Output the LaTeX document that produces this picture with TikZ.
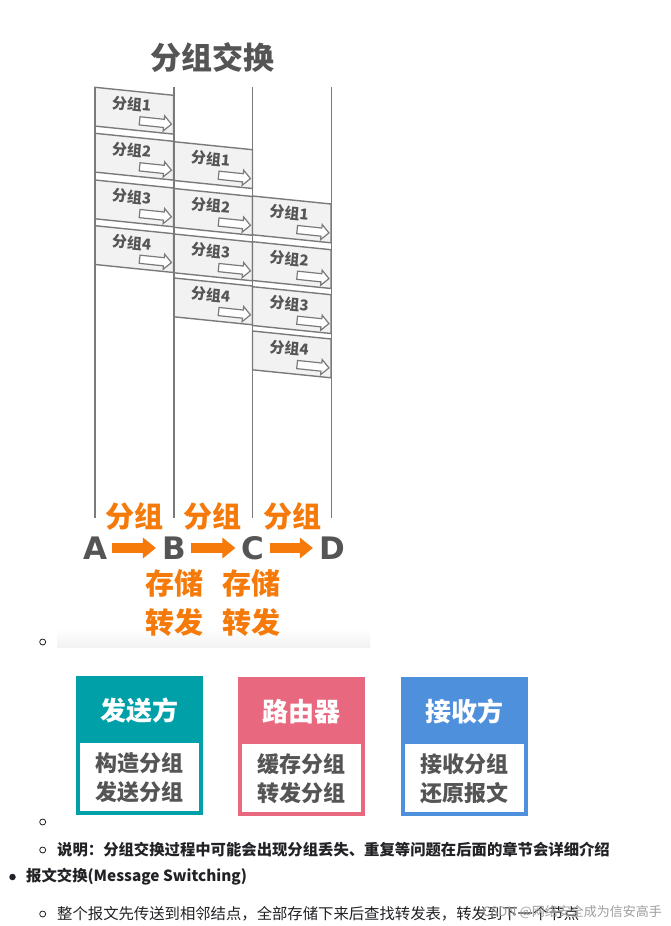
\documentclass[tikz,border=0pt]{standalone}
\usepackage{fontspec}
\setmainfont{Noto Sans CJK SC}
\newfontfamily\hostfont{DejaVu Sans}
\usetikzlibrary{shapes.arrows,arrows.meta}

\definecolor{inkgray}{HTML}{555555}
\definecolor{linegray}{HTML}{7A7A7A}
\definecolor{pktfill}{HTML}{F2F2F2}
\definecolor{flowor}{HTML}{F57A0A}
\definecolor{senderc}{HTML}{00A0A8}
\definecolor{routerc}{HTML}{E8697F}
\definecolor{recvc}{HTML}{4F90DC}
\definecolor{pagetext}{HTML}{222226}

\tikzset{
  lifeline/.style={linegray,line width=1.6pt},
  pktbox/.style={draw=linegray,fill=pktfill,line width=1.4pt},
  pktlabel/.style={inkgray,font=\bfseries\fontsize{15}{15}\selectfont,rotate=-5,inner sep=0pt},
  pktarrow/.style={single arrow,draw=linegray,fill=white,line width=1.2pt,rotate=-6,
    minimum height=32pt,single arrow head extend=3.5pt,
    single arrow head indent=0pt,inner xsep=0pt,inner ysep=3.5pt,outer sep=0pt},
  hostlabel/.style={inkgray,font=\hostfont\bfseries\fontsize{31}{31}\selectfont,inner sep=1pt},
  flowlabel/.style={flowor,font=\bfseries\fontsize{29}{29}\selectfont,inner sep=0pt},
  flowarrow/.style={flowor,line width=10pt,-{Triangle[length=13pt,width=20pt]},shorten >=5pt,shorten <=4pt},
  cardhead/.style={font=\bfseries\fontsize{26}{26}\selectfont,white,inner sep=0pt},
  cardbody/.style={font=\bfseries\fontsize{22}{29}\selectfont,inkgray,align=center,inner sep=0pt},
  pageline/.style={pagetext,anchor=west,inner sep=0pt,font=\fontsize{15.35}{15.35}\selectfont},
  hollowdot/.style={draw=pagetext,line width=0.8pt,circle,minimum size=6pt,inner sep=0pt},
  solidbullet/.style={fill=pagetext,circle,minimum size=6.5pt,inner sep=0pt}
}

\begin{document}
\begin{tikzpicture}[x=1pt,y=-1pt]
  \useasboundingbox (0,0) rectangle (670,926);
  \fill[white] (0,0) rectangle (670,926);

  % faint edge below the screenshot
  \shade[top color=white,bottom color=black!5] (57,628) rectangle (370,647);

  \node[inkgray,font=\bfseries\fontsize{31}{31}\selectfont,inner sep=0pt] (title) at (212,58) {分组交换};

  % packets, col x / top y / number
  \foreach \px/\py/\pn/\pname in {
      95/87.3/1/a1, 95/133.3/2/a2, 95/180/3/a3, 95/225.7/4/a4,
      174/141.7/1/b1, 174/188.5/2/b2, 174/234/3/b3, 174/278/4/b4,
      252.5/196/1/c1, 252.5/241.7/2/c2, 252.5/286.7/3/c3, 252.5/331/4/c4} {
    \draw[pktbox] (\px,\py) -- ++(78.5,8) -- ++(0,38.8) -- ++(-78.5,-8) -- cycle;
    \node[pktlabel] (lbl\pname) at (\px+36.7,\py+17) {分组\pn};
    \node[pktarrow] (arr\pname) at (\px+58.5,\py+35) {};
  }

  % the four hosts
  \node[hostlabel] (hostA) at (95,548) {A};
  \node[hostlabel] (hostB) at (174,548) {B};
  \node[hostlabel] (hostC) at (253,548) {C};
  \node[hostlabel] (hostD) at (332,548) {D};

  \coordinate (topA) at (95,87);
  \coordinate (topB) at (174,87);
  \coordinate (topC) at (252.5,87);
  \coordinate (topD) at (331.5,87);
  \coordinate (endA) at (95,518);
  \coordinate (endB) at (174,518);
  \coordinate (endC) at (252.5,518);
  \coordinate (endD) at (331.5,518);
  \foreach \n in {A,B,C,D} {
    \draw[lifeline] (top\n) -- (end\n);
  }

  \draw[flowarrow] (hostA) -- (hostB);
  \draw[flowarrow] (hostB) -- (hostC);
  \draw[flowarrow] (hostC) -- (hostD);

  \node[flowlabel] (hopAB) at (134,516) {分组};
  \node[flowlabel] (hopBC) at (212,516) {分组};
  \node[flowlabel] (hopCD) at (292.5,516) {分组};
  \node[flowlabel] (storeB) at (174,583) {存储};
  \node[flowlabel] (storeC) at (251.7,583) {存储};
  \node[flowlabel] (sendB) at (174,622) {转发};
  \node[flowlabel] (sendC) at (251.7,622) {转发};

  % three cards
  \foreach \cx/\cy/\cc/\chead/\cbody/\cname in {
      76/676/senderc/发送方/{构造分组\\发送分组}/sender,
      238.3/677/routerc/路由器/{缓存分组\\转发分组}/router,
      400.7/677/recvc/接收方/{接收分组\\还原报文}/recv} {
    \fill[\cc] (\cx,\cy) rectangle ++(126.8,139);
    \fill[white] (\cx+4,\cy+67) rectangle ++(118.8,68);
    \node[cardhead] (\cname head) at (\cx+63.4,\cy+34.5) {\chead};
    \node[cardbody] (\cname body) at (\cx+63.4,\cy+102) {\cbody};
  }

  % page text
  \node[hollowdot] (dotA) at (42.7,642) {};
  \node[hollowdot] (dotB) at (42.7,822) {};
  \node[hollowdot] (dotC) at (42.7,850) {};
  \node[solidbullet] (dotD) at (12.5,877) {};
  \node[hollowdot] (dotE) at (42.7,914) {};
  \node[pageline,font=\bfseries\fontsize{15.35}{15.35}\selectfont] (noteline) at (57,849.5)
    {说明：分组交换过程中可能会出现分组丢失、重复等问题在后面的章节会详细介绍};
  \node[pageline,font=\bfseries\fontsize{15.35}{15.35}\selectfont] (msgline) at (26,877)
    {报文交换(Message Switching)};
  \node[pageline] (descline) at (57,914)
    {整个报文先传送到相邻结点，全部存储下来后查找转发表，转发到下一个节点};
  \node[black!38,anchor=east,inner sep=0pt,font=\fontsize{13}{13}\selectfont] (mark) at (662,912)
    {CSDN @网络安全成为信安高手};
\end{tikzpicture}
\end{document}
